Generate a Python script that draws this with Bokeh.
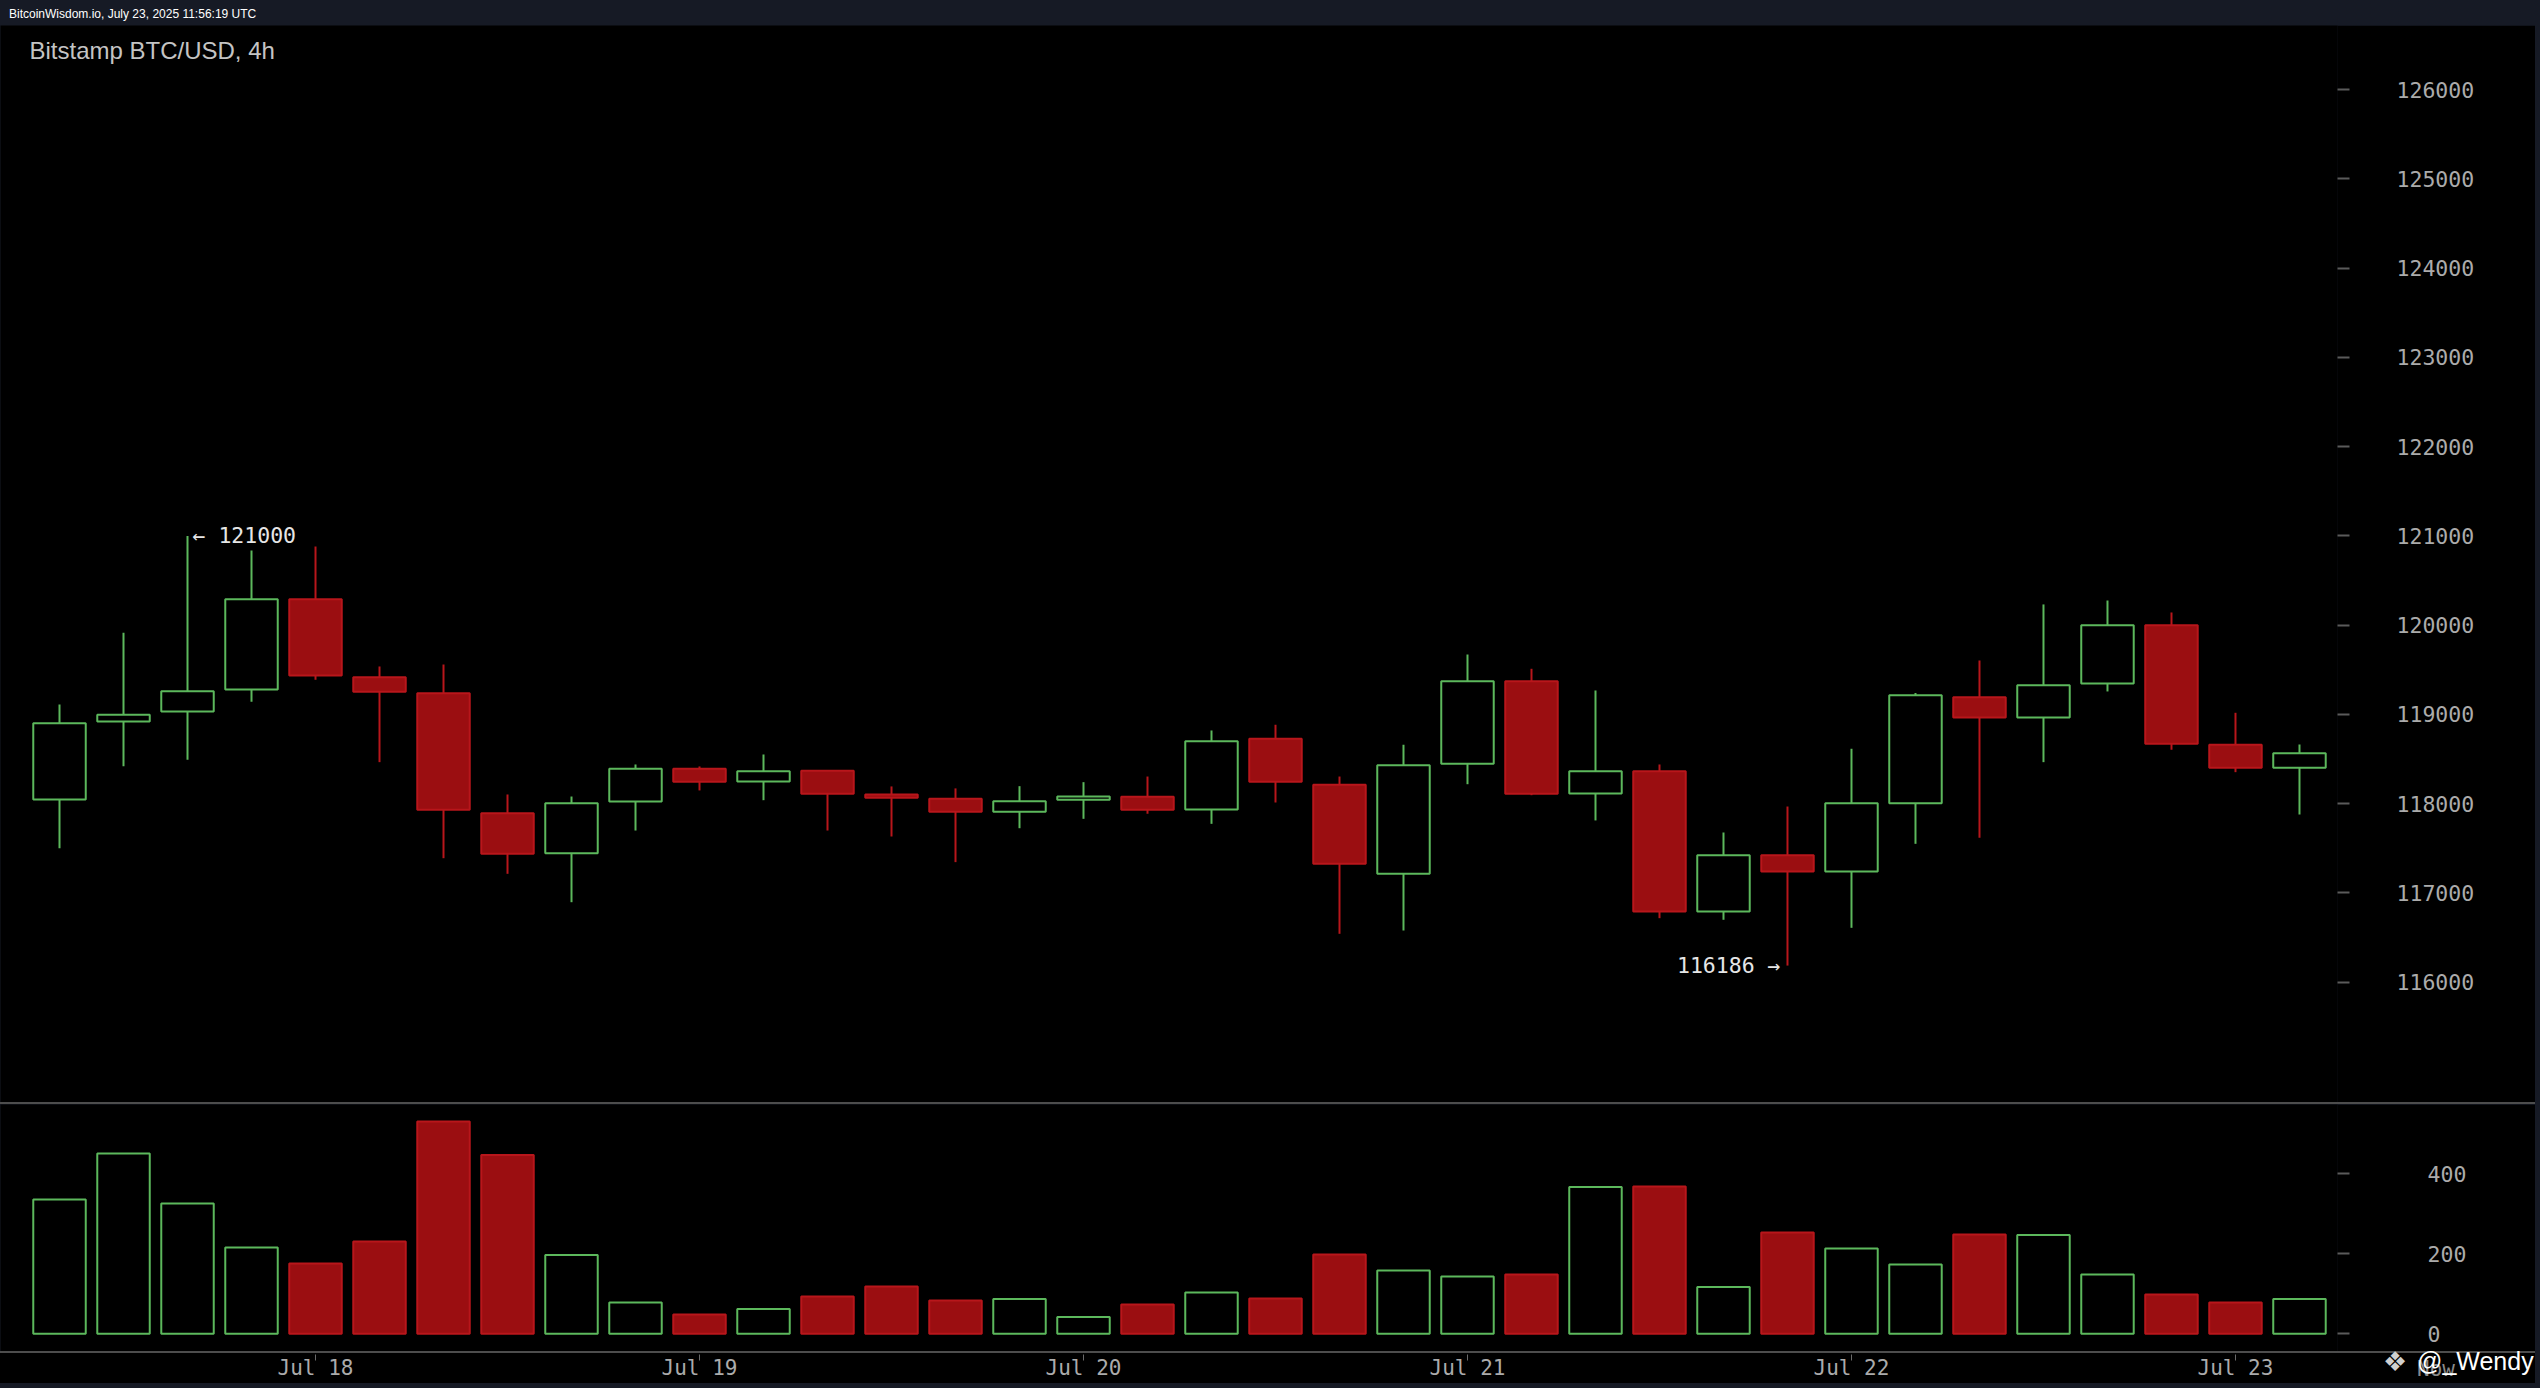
import pandas as pd
from bokeh.plotting import figure
from bokeh.models import (Range1d, FixedTicker, Label, Div, ColumnDataSource,
                          BasicTickFormatter)
from bokeh.layouts import column, row
from bokeh.core.properties import value
from bokeh.embed import file_html
from bokeh.resources import INLINE

# ---------------- data ----------------
opens = [118047, 118921, 119033, 119279, 120291, 119417, 119238, 117893, 117445,
         118025, 118391, 118249, 118369, 118103, 118055, 117909, 118043, 118077,
         117935, 118727, 118211, 117214, 118447, 119372, 118114, 118364, 116792,
         117423, 117240, 118005, 119193, 118966, 119346, 120000, 118660, 118402]
highs = [119112, 119914, 121000, 120836, 120881, 119537, 119559, 118103, 118080,
         118439, 118417, 118551, 118375, 118193, 118171, 118196, 118241, 118304,
         118820, 118884, 118304, 118660, 119671, 119511, 119268, 118439, 117677,
         117968, 118615, 119240, 119604, 120232, 120276, 120142, 119018, 118663]
lows = [117501, 118420, 118492, 119141, 119388, 118465, 117389, 117214, 116896,
        117699, 118148, 118039, 117699, 117632, 117345, 117725, 117830, 117887,
        117774, 118013, 116542, 116579, 118218, 118095, 117812, 116717, 116699,
        116186, 116609, 117550, 117618, 118465, 119257, 118604, 118353, 117879]
closes = [118902, 118996, 119260, 120291, 119436, 119253, 117931, 117438, 118005,
          118391, 118245, 118364, 118111, 118065, 117909, 118028, 118080, 117931,
          118700, 118245, 117326, 118431, 119372, 118111, 118364, 116792, 117423,
          117240, 118005, 119215, 118966, 119327, 120000, 118671, 118402, 118565]
volumes = [336, 451, 326, 216, 176, 231, 531, 447, 197, 78, 48, 62, 93, 118, 83,
           87, 42, 73, 103, 88, 198, 158, 143, 148, 367, 368, 117, 253, 213, 173,
           248, 247, 148, 98, 78, 87]
price_ticks = [116000, 117000, 118000, 119000, 120000, 121000, 122000, 123000,
               124000, 125000, 126000]
volume_ticks = [0, 200, 400]
first_candle = "2025-07-17 08:00"
header_text = "BitcoinWisdom.io, July 23, 2025 11:56:19 UTC"
title_text = "Bitstamp BTC/USD, 4h"
now_text = "Now"
watermark_text = "@_Wendy"

times = pd.date_range(first_candle, periods=len(opens), freq="4h")
idx = list(range(len(opens)))
date_tick_idx = [i for i, t in enumerate(times) if t.hour == 0]
date_tick_labels = [f"{times[i]:%b} {times[i].day}" for i in date_tick_idx]

# ---------------- styles ----------------
NAVY = "#161a25"
GREEN = "#5cb85c"
RED_FILL = "#9b0e11"
RED_LINE = "#b8161b"
GRID = "#4d4d4d"
TICK = "#5a5a5a"
LABEL = "#ababab"
MONO = "DejaVu Sans Mono"
PANEL_W = 2535
FRAME_W = 2337
AXIS_W = PANEL_W - FRAME_W

up = [c >= o for o, c in zip(opens, closes)]
src = ColumnDataSource(dict(
    x=idx, o=opens, h=highs, l=lows, c=closes, vol=volumes,
    top=[max(o, c) for o, c in zip(opens, closes)],
    bottom=[min(o, c) for o, c in zip(opens, closes)],
    line=[GREEN if u else RED_LINE for u in up],
    fill=["#000000" if u else RED_FILL for u in up],
))

x_range = Range1d(-0.922, 35.594)


def style_right_axis(ax, ticks, standoff):
    ax.ticker = FixedTicker(ticks=ticks)
    ax.formatter = BasicTickFormatter(use_scientific=False)
    ax.axis_line_color = None
    ax.major_tick_out = 12
    ax.major_tick_in = 0
    ax.major_tick_line_color = TICK
    ax.major_tick_line_width = 2
    ax.minor_tick_line_color = None
    ax.major_label_standoff = standoff
    ax.major_label_text_font = MONO
    ax.major_label_text_font_size = "21.5px"
    ax.major_label_text_color = LABEL


# ---------------- price panel ----------------
p = figure(width=PANEL_W, height=1077, x_range=x_range, y_range=Range1d(114652, 126718),
           output_backend="svg", toolbar_location=None, x_axis_location=None,
           y_axis_location="right", min_border_left=0, min_border_right=AXIS_W,
           min_border_top=0, min_border_bottom=0, background_fill_color="black",
           border_fill_color="black", outline_line_color=None)
p.grid.visible = False
p.segment(x0="x", y0="l", x1="x", y1="h", line_color="line", line_width=2, source=src)
p.vbar(x="x", width=0.82, top="top", bottom="bottom", fill_color="fill",
       line_color="line", line_width=2, source=src)
style_right_axis(p.yaxis[0], price_ticks, 47)

imax = highs.index(max(highs))
imin = lows.index(min(lows))
p.text(x=[imax], y=[highs[imax]], text=[f"\u2190 {highs[imax]}"], x_offset=5,
       text_align="left", text_baseline="middle", text_font=value(MONO),
       text_font_size="21.5px", text_color="#e6e6e6")
p.text(x=[imin], y=[lows[imin]], text=[f"{lows[imin]} \u2192"], x_offset=-7,
       text_align="right", text_baseline="middle", text_font=value(MONO),
       text_font_size="21.5px", text_color="#e6e6e6")
p.add_layout(Label(x=29, y=1052, x_units="screen", y_units="screen", text=title_text,
                   text_font="Liberation Sans", text_font_size="24px",
                   text_color="#c4c4c4", text_baseline="alphabetic"))

# ---------------- volume panel ----------------
v = figure(width=PANEL_W, height=247, x_range=x_range, y_range=Range1d(-44.3, 573.3),
           output_backend="svg", toolbar_location=None, y_axis_location="right",
           x_axis_location=None, min_border_left=0, min_border_right=AXIS_W,
           min_border_top=0, min_border_bottom=0, background_fill_color="black",
           border_fill_color="black", outline_line_color=None)
v.grid.visible = False
v.vbar(x="x", width=0.82, top="vol", bottom=0, fill_color="fill",
       line_color="line", line_width=2, source=src)
style_right_axis(v.yaxis[0], volume_ticks, 78)

# ---------------- date axis strip ----------------
d = figure(width=FRAME_W, frame_height=1, x_range=x_range, y_range=Range1d(0, 1),
           output_backend="svg", toolbar_location=None, y_axis_location=None,
           x_axis_location="below", min_border_left=0, min_border_right=0,
           min_border_top=0, min_border_bottom=0, background_fill_color="black",
           border_fill_color="black", outline_line_color=None)
d.grid.visible = False
dx = d.xaxis[0]
dx.ticker = FixedTicker(ticks=date_tick_idx)
dx.major_label_overrides = {i: lab for i, lab in zip(date_tick_idx, date_tick_labels)}
dx.axis_line_color = None
dx.major_tick_out = 6
dx.major_tick_in = 0
dx.major_tick_line_color = "#6a6a6a"
dx.major_tick_line_width = 1
dx.minor_tick_line_color = None
dx.major_label_standoff = -5
dx.major_label_text_font = MONO
dx.major_label_text_font_size = "21px"
dx.major_label_text_color = LABEL

# ---------------- divs: header, separators, corner ----------------
header = Div(text=(f'<div style="padding:8px 0 0 9px;font-family:\'Liberation Sans\',sans-serif;'
                   f'font-size:12px;line-height:12px;color:#ffffff;white-space:nowrap;">'
                   f'{header_text}</div>'),
             width=2540, height=25, margin=0, styles={"background-color": NAVY})
sep = Div(text="", width=PANEL_W, height=2, margin=0, styles={"background-color": GRID})
sep_left = Div(text="", width=FRAME_W, height=2, margin=0, styles={"background-color": GRID})
corner = Div(text=(
    f'<div style="position:relative;width:{AXIS_W}px;height:32px;background:#000;">'
    f'<div style="position:absolute;left:0;top:0;width:{AXIS_W}px;height:2px;background:{GRID};"></div>'
    f'<span style="position:absolute;left:80px;top:8px;font-family:\'DejaVu Sans Mono\';'
    f'font-size:21px;line-height:21px;color:#8a8a8a;white-space:nowrap;">{now_text}</span>'
    f'<span style="position:absolute;left:46px;top:-3px;font-family:\'DejaVu Sans\';'
    f'font-size:27px;line-height:27px;color:#d0d0d0;">\u2756</span>'
    f'<span style="position:absolute;left:80px;top:-2px;font-family:\'Liberation Sans\';'
    f'font-size:25px;line-height:25px;color:#ffffff;white-space:nowrap;">{watermark_text}</span>'
    f'</div>'),
    width=AXIS_W, height=32, margin=0, styles={"background-color": "#000000"})

bottom = row(column(sep_left, d), corner, styles={"background-color": "#000000"})
layout = column(header, p, sep, v, bottom, styles={"background-color": NAVY})
try:
    from bokeh.models import GlobalInlineStyleSheet
    layout.stylesheets = [GlobalInlineStyleSheet(css="body { background-color: #161a25; }")]
except Exception:
    pass

open("out.html", "w").write(file_html(layout, INLINE))
